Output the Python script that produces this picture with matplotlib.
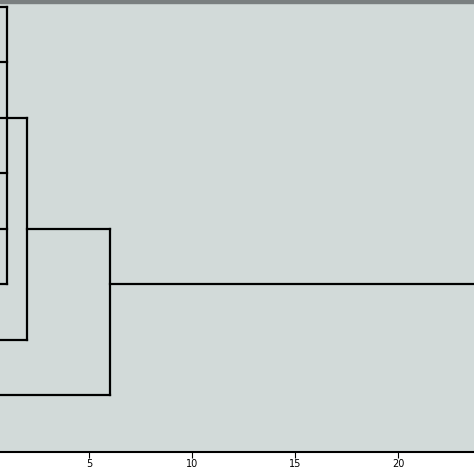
import matplotlib
matplotlib.use("Agg")
import matplotlib.pyplot as plt

# leaf positions (rows, top to bottom) and merge distances
leaves = [0, 1, 2, 3, 4, 5, 6, 7]
# merges: (distance, list of child y-positions, child start distances, output y)
merge_dist = [1.0, 2.0, 6.0]
merge_children_y = [[0, 1, 2, 3, 4, 5], [2, 6], [4, 7]]
merge_children_x = [[0, 0, 0, 0, 0, 0], [1.0, 0], [2.0, 0]]
merge_out_y = [2, 4, 5]
final_dist = 30.0
xticks = [5, 10, 15, 20]

fig = plt.figure(figsize=(4.74, 4.74), dpi=100)
fig.patch.set_facecolor("#ffffff")
ax = fig.add_axes([0, 22/474, 1, 449/474])
ax.set_facecolor("#d2dad9")
lw = 1.6
for d, cy, cx in zip(merge_dist, merge_children_y, merge_children_x):
    for y, x in zip(cy, cx):
        ax.plot([x, d], [y, y], color="black", lw=lw, solid_capstyle="projecting")
    ax.plot([d, d], [min(cy), max(cy)], color="black", lw=lw, solid_capstyle="projecting")
ax.plot([merge_dist[-1], final_dist], [merge_out_y[-1]]*2, color="black", lw=lw)

ax.set_xlim(14/20.6, 488/20.6)
ax.set_ylim(8.02, -0.072)
ax.set_xticks(xticks)
ax.set_xticklabels([str(t) for t in xticks], fontsize=7)
ax.tick_params(axis="x", direction="out", length=4, width=0.8, pad=1)
ax.set_yticks([])
for s in ["top", "left", "right"]:
    ax.spines[s].set_visible(False)
ax.spines["bottom"].set_linewidth(1.5)
fig.add_artist(plt.Rectangle((0, 1 - 3/474), 1, 3/474, transform=fig.transFigure, color="#7a7f80"))
fig.savefig("out.png", dpi=100)
